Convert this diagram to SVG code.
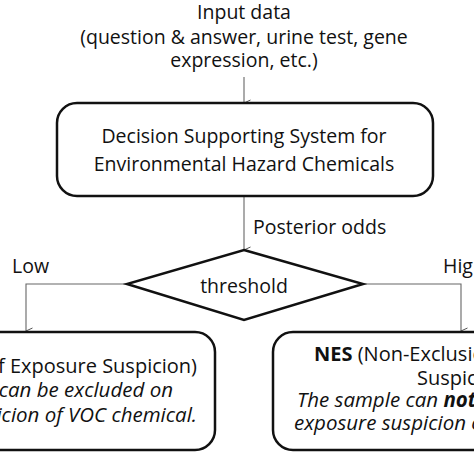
<svg xmlns="http://www.w3.org/2000/svg" width="474" height="474" viewBox="0 0 474 474">
<defs>
<marker id="arr" markerUnits="userSpaceOnUse" markerWidth="12" markerHeight="12" refX="6" refY="10" orient="auto-start-reverse" viewBox="0 0 12 12">
<path d="M3,3.5 L6,10 L9,3.5" fill="none" stroke="#555" stroke-width="1"/>
</marker>
<style>
text{font-family:"Open Sans","Noto Sans","DejaVu Sans",sans-serif;fill:#111;font-size:19.5px}
.box{fill:#fff;stroke:#111;stroke-width:2.5}
.conn{fill:none;stroke:#666;stroke-width:1.1}
.r{font-size:20px}
.it{font-style:italic;font-size:20.5px}
.b{font-weight:bold}
</style>
</defs>
<rect width="474" height="474" fill="#fff"/>
<g id="input">
<text x="244" y="19" text-anchor="middle">Input data</text>
<text x="244" y="44" text-anchor="middle">(question &amp; answer, urine test, gene</text>
<text x="244" y="67" text-anchor="middle">expression, etc.)</text>
</g>
<g id="connectors">
<path class="conn" d="M244,77 V103" marker-end="url(#arr)"/>
<path class="conn" d="M244,196 V250" marker-end="url(#arr)"/>
<path class="conn" d="M127,284 H26 V331" marker-end="url(#arr)"/>
<path class="conn" d="M363,284 H461 V331" marker-end="url(#arr)"/>
<text x="253" y="234">Posterior odds</text>
<text x="12" y="273">Low</text>
<text x="443" y="273">High</text>
</g>
<g id="dss">
<rect class="box" x="57" y="103" width="376" height="93" rx="20"/>
<text x="244" y="143" text-anchor="middle">Decision Supporting System for</text>
<text x="244" y="171" text-anchor="middle">Environmental Hazard Chemicals</text>
</g>
<g id="threshold">
<polygon class="box" points="244,250 363,284 244,320 127,284"/>
<text x="244" y="293" text-anchor="middle">threshold</text>
</g>
<g id="es">
<rect class="box" x="-150" y="332" width="365" height="118" rx="20"/>
<text x="197" y="373" text-anchor="end" class="r"><tspan class="b">ES</tspan> (Exclusion of Exposure Suspicion)</text>
<text x="173" y="397" text-anchor="end" class="it">The sample can be excluded on</text>
<text x="197" y="422" text-anchor="end" class="it">exposure suspicion of VOC chemical.</text>
</g>
<g id="nes">
<rect class="box" x="273" y="332" width="365" height="118" rx="20"/>
<text x="314" y="361" class="r"><tspan class="b">NES</tspan> (Non-Exclusion of Exposure</text>
<text x="417" y="385" class="r">Suspicion)</text>
<text x="297" y="407" class="it">The sample can <tspan class="b">not</tspan> exclude</text>
<text x="294" y="430" class="it">exposure suspicion of VOC chemical.</text>
</g>
</svg>
